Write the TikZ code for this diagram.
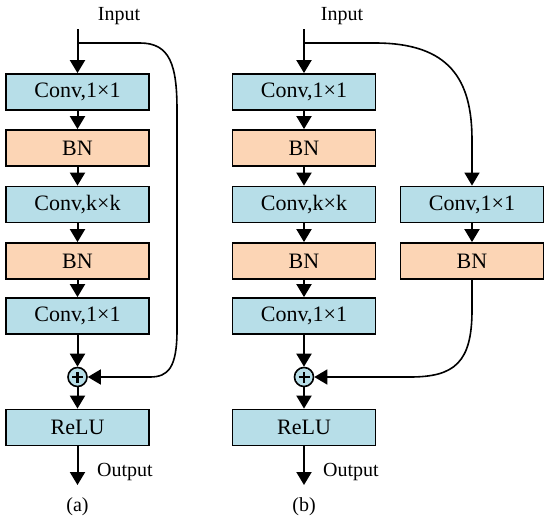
\documentclass[tikz,border=0pt]{standalone}
\usepackage{fontspec}
\setmainfont{Liberation Serif}
\usetikzlibrary{arrows.meta}
\definecolor{cblue}{RGB}{183,222,232}
\definecolor{corange}{RGB}{252,213,181}
\tikzset{
  blk/.style={draw=black, line width=1.8pt, minimum width=143pt, minimum height=36pt, inner sep=0pt, font=\fontsize{22}{24}\selectfont},
  bluebox/.style={blk, fill=cblue},
  orangebox/.style={blk, fill=corange},
  lbl/.style={font=\fontsize{20}{22}\selectfont, inner sep=0pt},
  plus/.style={circle, draw=black, line width=1.6pt, fill=cblue, minimum size=19pt, inner sep=0pt},
  arr/.style={line width=2pt, -{Triangle[width=15pt,length=13pt]}},
  carr/.style={line width=1.6pt, -{Triangle[width=15pt,length=13pt]}},
}
\begin{document}
\begin{tikzpicture}[x=1pt,y=-1pt]
\useasboundingbox (0,0) rectangle (550,522);
% ---------- (a)
\node[lbl] (ina) at (119,16) {Input};
\coordinate (sa) at (77.5,29);
\coordinate (ba) at (77.5,43);
\node[bluebox] (a1) at (77.5,92) {Conv,1\texttimes1};
\node[orangebox] (a2) at (77.5,148) {BN};
\node[bluebox] (a3) at (77.5,204.5) {Conv,k\texttimes k};
\node[orangebox] (a4) at (77.5,261) {BN};
\node[bluebox] (a5) at (77.5,316) {Conv,1\texttimes1};
\node[plus] (pa) at (77.5,377) {};
\draw[line width=2.2pt] ([yshift=-5.5pt]pa.center) -- ([yshift=5.5pt]pa.center) ([xshift=-5.5pt]pa.center) -- ([xshift=5.5pt]pa.center);
\node[bluebox] (a6) at (77.5,427.5) {ReLU};
\coordinate (oa) at (77.5,485);
\node[lbl, anchor=west] (outa) at (97,472) {Output};
\node[lbl] (capa) at (77.5,507) {(a)};
\draw[arr] (sa) -- (a1.north);
\draw[arr] (a1) -- (a2);
\draw[arr] (a2) -- (a3);
\draw[arr] (a3) -- (a4);
\draw[arr] (a4) -- (a5);
\draw[arr] (a5) -- (pa);
\draw[arr] (pa) -- (a6);
\draw[arr] (a6) -- (oa);
\draw[carr] (ba) -- (140,43) .. controls (170,43) and (177,65) .. (177,110) -- (177,330) .. controls (177,368) and (168,377) .. (150,377) -- (pa.east);
% ---------- (b)
\node[lbl] (inb) at (342,16) {Input};
\coordinate (sb) at (304,29);
\coordinate (bb) at (304,43);
\node[bluebox] (b1) at (304,92) {Conv,1\texttimes1};
\node[orangebox] (b2) at (304,148) {BN};
\node[bluebox] (b3) at (304,204.5) {Conv,k\texttimes k};
\node[orangebox] (b4) at (304,261) {BN};
\node[bluebox] (b5) at (304,316) {Conv,1\texttimes1};
\node[plus] (pb) at (304,377) {};
\draw[line width=2.2pt] ([yshift=-5.5pt]pb.center) -- ([yshift=5.5pt]pb.center) ([xshift=-5.5pt]pb.center) -- ([xshift=5.5pt]pb.center);
\node[bluebox] (b6) at (304,427.5) {ReLU};
\coordinate (ob) at (304,485);
\node[lbl, anchor=west] (outb) at (323,472) {Output};
\node[lbl] (capb) at (304,507) {(b)};
\node[bluebox] (r1) at (472,204.5) {Conv,1\texttimes1};
\node[orangebox] (r2) at (472,261) {BN};
\draw[arr] (sb) -- (b1.north);
\draw[arr] (b1) -- (b2);
\draw[arr] (b2) -- (b3);
\draw[arr] (b3) -- (b4);
\draw[arr] (b4) -- (b5);
\draw[arr] (b5) -- (pb);
\draw[arr] (pb) -- (b6);
\draw[arr] (b6) -- (ob);
\draw[arr] (r1) -- (r2);
\draw[carr] (bb) -- (375,43) .. controls (450,43) and (472,80) .. (472,140) -- (r1.north);
\draw[carr] (r2.south) -- (472,310) .. controls (472,362) and (455,377) .. (410,377) -- (pb.east);
\end{tikzpicture}
\end{document}
